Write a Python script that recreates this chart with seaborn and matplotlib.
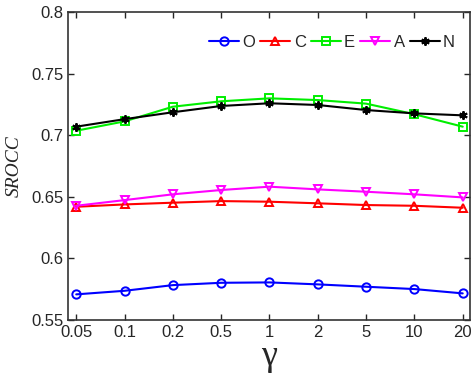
import numpy as np
import matplotlib
matplotlib.use('Agg')
import matplotlib.pyplot as plt
import pandas as pd
import seaborn as sns

# gamma values (categorical positions on x)
gammas = ['0.05', '0.1', '0.2', '0.5', '1', '2', '5', '10', '20']

# SROCC per trait
srocc_O = [0.5708, 0.5737, 0.5783, 0.5802, 0.5805, 0.5789, 0.5770, 0.5751, 0.5716]
srocc_C = [0.6419, 0.6438, 0.6452, 0.6465, 0.6460, 0.6447, 0.6433, 0.6427, 0.6411]
srocc_E = [0.7036, 0.7112, 0.7231, 0.7275, 0.7299, 0.7285, 0.7256, 0.7170, 0.7069]
srocc_A = [0.6427, 0.6473, 0.6520, 0.6555, 0.6582, 0.6560, 0.6541, 0.6520, 0.6495]
srocc_N = [0.7069, 0.7130, 0.7186, 0.7237, 0.7259, 0.7245, 0.7204, 0.7177, 0.7161]

traits = ['O', 'C', 'E', 'A', 'N']
colors = ['#0000ff', '#ff0000', '#00ee00', '#ff00ff', '#000000']
markers = ['o', '^', 's', 'v', (6, 2, 0)]

sns.set_style('ticks')
plt.rcParams['font.family'] = ['Liberation Sans', 'DejaVu Sans']

rows = []
for t, vals in zip(traits, [srocc_O, srocc_C, srocc_E, srocc_A, srocc_N]):
    for i, v in enumerate(vals):
        rows.append({'x': i, 'gamma': gammas[i], 'SROCC': v, 'trait': t})
df = pd.DataFrame(rows)

fig = plt.figure(figsize=(4.74, 3.74), dpi=100)
ax = fig.add_axes([0.1435, 0.1444, 0.848, 0.8236])

for t, c, m in zip(traits, colors, markers):
    sub = df[df['trait'] == t]
    sns.lineplot(data=sub, x='x', y='SROCC', ax=ax, color=c, lw=1.5,
                 marker=m, markersize=6, markerfacecolor='none' if t != 'N' else c,
                 markeredgecolor=c, markeredgewidth=1.4, label=t)

ax.set_xlim(-0.17, 8.15)
ax.set_ylim(0.55, 0.8)
ax.set_xticks(range(len(gammas)))
ax.set_xticklabels(gammas)
ax.set_yticks([0.55, 0.6, 0.65, 0.7, 0.75, 0.8])
ax.set_yticklabels(['0.55', '0.6', '0.65', '0.7', '0.75', '0.8'])
ax.tick_params(direction='in', top=True, right=True, labelsize=12, length=4, width=1)
for s in ax.spines.values():
    s.set_linewidth(1.2)
    s.set_color('#333333')

ax.set_xlabel('γ', fontsize=26, family=['Liberation Serif'], labelpad=0)
ax.set_ylabel('SROCC', fontsize=14, family=['Liberation Serif'], style='italic', labelpad=6)

ax.legend(loc='upper right', ncol=5, frameon=False, fontsize=12, handlelength=1.8,
          handletextpad=0.2, columnspacing=0.3, bbox_to_anchor=(1.0, 0.975))

fig.savefig('out.png', dpi=100)
